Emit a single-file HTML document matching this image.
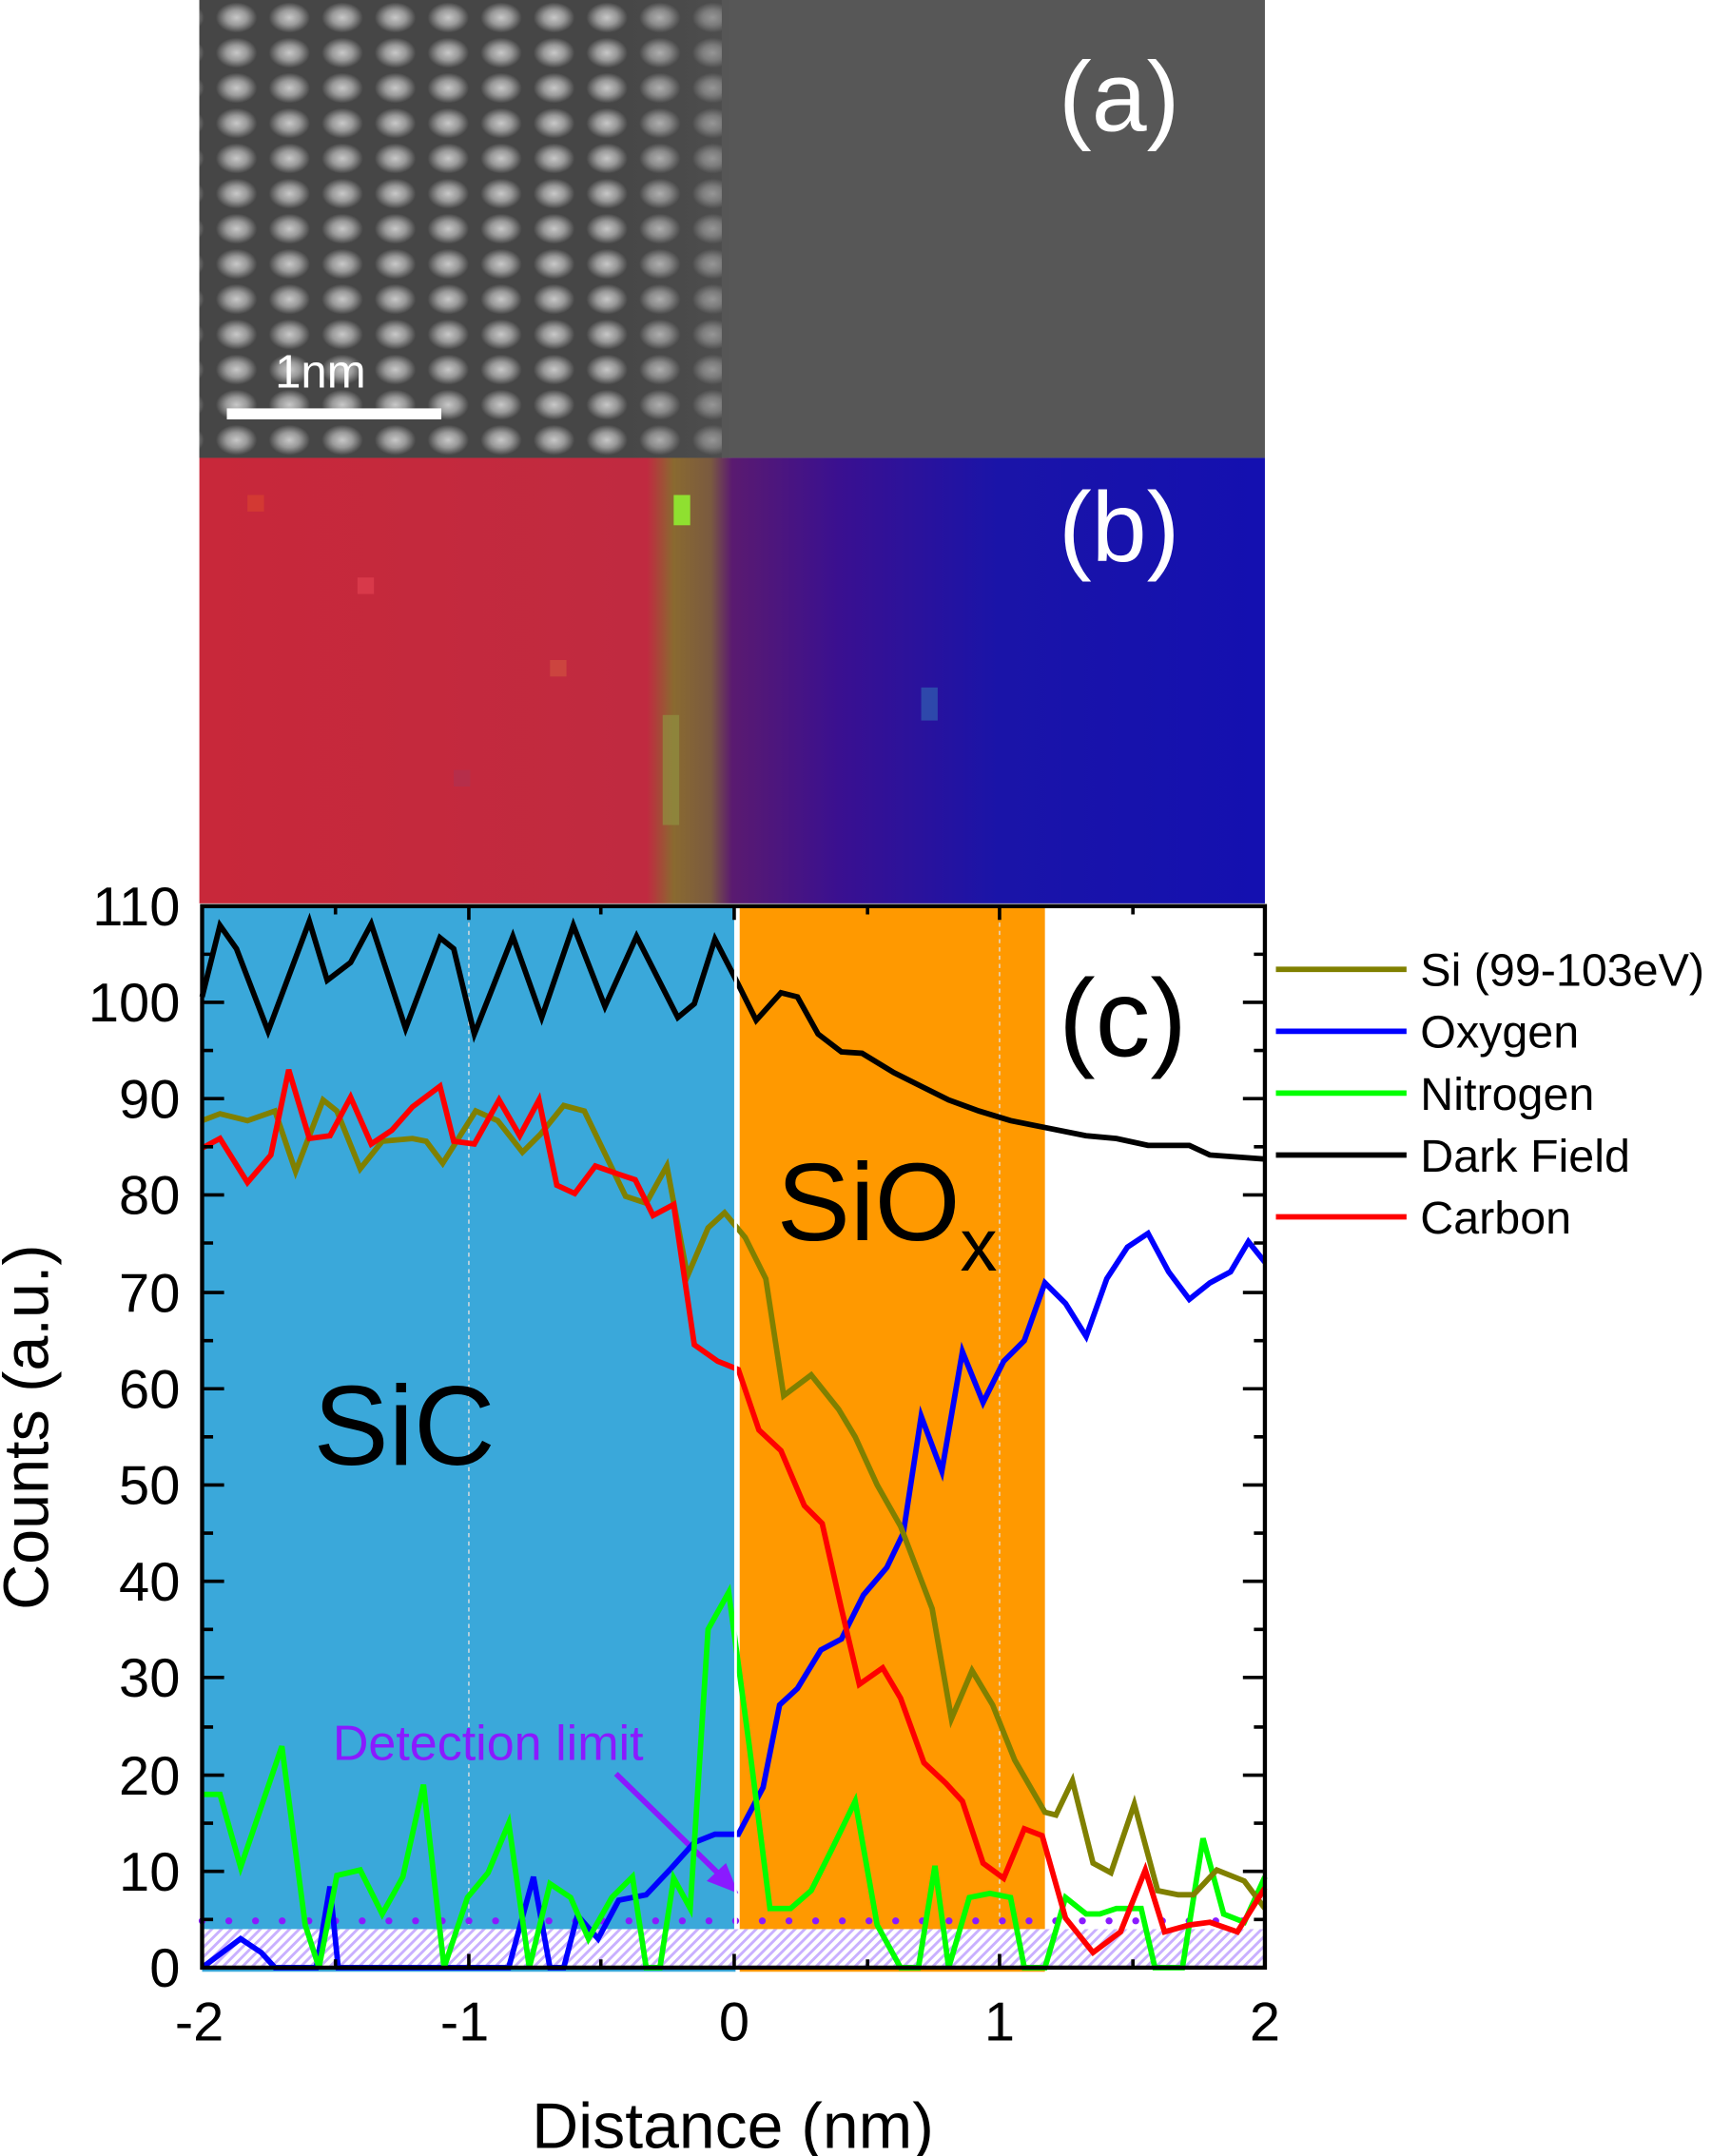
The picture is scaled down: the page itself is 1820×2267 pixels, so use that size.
<!DOCTYPE html>
<html><head><meta charset="utf-8"><style>
html,body{margin:0;padding:0;background:#fff;}
svg{display:block;}
text{font-family:"Liberation Sans",Arial,sans-serif;}
</style></head><body>
<svg width="1820" height="2267" viewBox="0 0 1259 1568" preserveAspectRatio="none" xmlns="http://www.w3.org/2000/svg">
<defs>
<radialGradient id="blob"><stop offset="0" stop-color="#c8c8c8"/><stop offset="0.5" stop-color="#9a9a9a"/><stop offset="1" stop-color="#9a9a9a" stop-opacity="0"/></radialGradient>
<pattern id="lat" x="153" y="0" width="38.5" height="25.6" patternUnits="userSpaceOnUse">
<ellipse cx="19" cy="12.8" rx="15" ry="11" fill="url(#blob)"/>
</pattern>
<linearGradient id="fadeL" x1="0" x2="1"><stop offset="0" stop-color="#505050" stop-opacity="0"/><stop offset="1" stop-color="#565656" stop-opacity="1"/></linearGradient>
<linearGradient id="bgrad" x1="0" x2="1">
<stop offset="0" stop-color="#c8283a"/><stop offset="0.42" stop-color="#c02a40"/>
<stop offset="0.445" stop-color="#8a6a30"/><stop offset="0.48" stop-color="#7a5a40"/>
<stop offset="0.5" stop-color="#5a1a70"/><stop offset="0.6" stop-color="#3a1090"/>
<stop offset="0.75" stop-color="#1a14a8"/><stop offset="1" stop-color="#1410b0"/></linearGradient>
<pattern id="hatch" width="5" height="5" patternUnits="userSpaceOnUse" patternTransform="rotate(45)">
<rect width="5" height="5" fill="#fff"/><rect width="2" height="5" fill="#c9b0ff"/></pattern>
</defs>
<!-- panel a -->
<rect x="145" y="0" width="775" height="333" fill="#575757"/>
<rect x="145" y="0" width="380" height="333" fill="#464646"/>
<rect x="145" y="0" width="380" height="333" fill="url(#lat)"/>
<rect x="440" y="0" width="90" height="333" fill="url(#fadeL)" opacity="0.5"/>
<rect x="165" y="297" width="156" height="8" fill="#fff"/>
<text x="200" y="282" font-size="34" fill="#fff">1nm</text>
<text x="770" y="95" font-size="72" fill="#fff">(a)</text>
<!-- panel b -->
<rect x="145" y="333" width="775" height="324" fill="url(#bgrad)"/>
<rect x="180" y="360" width="12" height="12" fill="#d84030" opacity=".7"/>
<rect x="260" y="420" width="12" height="12" fill="#e04050" opacity=".7"/>
<rect x="330" y="560" width="12" height="12" fill="#b03050" opacity=".7"/>
<rect x="400" y="480" width="12" height="12" fill="#d05040" opacity=".7"/>
<rect x="490" y="360" width="12" height="22" fill="#8fe030"/>
<rect x="482" y="520" width="12" height="80" fill="#909040" opacity=".7"/>
<rect x="670" y="500" width="12" height="24" fill="#3060b0" opacity=".7"/>
<text x="770" y="408" font-size="72" fill="#fff">(b)</text>
<!-- plot c -->
<rect x="147" y="659" width="773" height="772" fill="#fff"/>
<rect x="147" y="659" width="388" height="744" fill="#3aa8da"/>
<rect x="538" y="659" width="222" height="744" fill="#ff9900"/>
<rect x="147" y="1403" width="773" height="28" fill="url(#hatch)"/>
<rect x="147" y="1431" width="388" height="3" fill="#3aa8da"/>
<rect x="538" y="1431" width="222" height="3" fill="#ff9900"/>
<g stroke="#ddd" stroke-width="1" stroke-dasharray="3,3">
<line x1="341" y1="659" x2="341" y2="1403"/><line x1="727" y1="659" x2="727" y2="1403"/></g>
<line x1="147" y1="1397" x2="920" y2="1397" stroke="#8a1aff" stroke-width="5" stroke-dasharray="0.1,19.3" stroke-linecap="round"/>
<text x="242" y="1280" font-size="36" fill="#8a1aff">Detection limit</text>
<line x1="448" y1="1290" x2="525" y2="1365" stroke="#8a1aff" stroke-width="4"/>
<polygon points="537,1377 514,1368 528,1355" fill="#8a1aff"/>
<g fill="none" stroke-width="4" stroke-linejoin="miter">
<polyline stroke="#0000ff" points="147,1431 175,1410 190,1420 200,1431 230,1431 240,1372 246,1431 370,1431 388,1365 400,1431 410,1431 420,1393 435,1410 450,1382 470,1378 487,1360 505,1340 520,1334 537,1334 555,1300 567,1240 580,1228 597,1200 612,1192 628,1160 645,1140 657,1115 670,1030 685,1070 700,983 715,1020 730,990 745,975 760,933 775,948 790,972 805,930 820,907 835,897 850,925 865,945 880,933 895,925 908,903 920,918"/>
<polyline stroke="#00ff00" points="147,1305 160,1305 175,1358 188,1320 205,1270 222,1400 232,1431 245,1364 262,1360 278,1392 293,1365 308,1298 323,1431 340,1380 355,1362 370,1326 385,1431 400,1370 415,1380 428,1410 445,1380 460,1365 470,1431 480,1431 490,1366 502,1388 515,1185 530,1158 545,1270 560,1388 575,1388 590,1375 605,1345 622,1310 638,1400 655,1431 668,1431 680,1357 690,1431 705,1380 720,1377 735,1380 745,1431 760,1431 775,1380 790,1392 800,1392 812,1388 830,1388 840,1431 860,1431 875,1337 890,1392 905,1398 920,1365"/>
<polyline stroke="#808000" points="147,815 160,810 180,815 200,808 215,852 235,800 245,808 262,850 278,830 300,828 310,830 322,846 346,808 362,815 380,838 393,825 410,804 425,808 455,870 470,875 485,848 500,928 515,893 527,882 542,900 557,930 570,1015 590,1000 610,1025 622,1045 638,1080 655,1110 678,1170 692,1250 707,1215 722,1240 738,1280 760,1318 768,1320 780,1295 795,1355 808,1362 825,1312 842,1375 857,1378 868,1378 885,1360 905,1368 920,1388"/>
<polyline stroke="#ff0000" points="147,835 160,828 180,860 197,840 210,778 225,828 240,826 255,798 270,832 285,822 300,805 320,790 330,830 345,832 363,800 378,826 392,800 405,862 418,868 433,848 450,854 462,858 475,884 490,876 505,978 522,990 537,996 552,1040 568,1055 585,1095 598,1108 612,1170 625,1225 642,1213 655,1235 672,1282 688,1297 700,1310 715,1355 730,1366 745,1330 758,1335 775,1395 795,1420 815,1405 833,1360 847,1405 865,1400 880,1398 900,1405 920,1373"/>
<polyline stroke="#000" points="147,725 160,673 172,690 195,750 225,670 238,713 255,700 270,672 295,748 320,682 330,690 345,752 373,681 394,740 417,673 440,732 463,681 493,740 505,730 520,683 535,712 550,742 568,722 580,725 595,752 612,765 627,766 650,780 670,790 690,800 712,808 735,815 760,820 790,826 812,828 835,833 865,833 880,840 920,843"/>
</g>
<line x1="535" y1="659" x2="535" y2="1403" stroke="#fff" stroke-width="2"/>
<text x="228" y="1065" font-size="82" fill="#000">SiC</text>
<text x="565" y="902" font-size="80" fill="#000">SiO<tspan font-size="54" dy="22">x</tspan></text>
<text x="770" y="768" font-size="80" fill="#000">(c)</text>
<!-- frame & ticks -->
<rect x="147" y="659" width="773" height="772" fill="none" stroke="#000" stroke-width="3"/>
<g stroke="#000" stroke-width="2.5">
<path d="M147,1431h16M147,1361h16M147,1291h16M147,1220h16M147,1150h16M147,1080h16M147,1010h16M147,940h16M147,869h16M147,799h16M147,729h16
M920,1431h-16M920,1361h-16M920,1291h-16M920,1220h-16M920,1150h-16M920,1080h-16M920,1010h-16M920,940h-16M920,869h-16M920,799h-16M920,729h-16
M147,1396h8M147,1326h8M147,1256h8M147,1185h8M147,1115h8M147,1045h8M147,975h8M147,904h8M147,834h8M147,764h8M147,694h8
M920,1396h-8M920,1326h-8M920,1256h-8M920,1185h-8M920,1115h-8M920,1045h-8M920,975h-8M920,904h-8M920,834h-8M920,764h-8M920,694h-8
M341,1431v-10M534,1431v-10M727,1431v-10M244,1431v-6M437,1431v-6M631,1431v-6M824,1431v-6
M341,659v10M534,659v10M727,659v10M244,659v6M437,659v6M631,659v6M824,659v6"/>
</g>
<g font-size="40" text-anchor="end" fill="#000">
<text x="131" y="1445">0</text><text x="131" y="1375">10</text><text x="131" y="1305">20</text><text x="131" y="1234">30</text>
<text x="131" y="1164">40</text><text x="131" y="1094">50</text><text x="131" y="1024">60</text><text x="131" y="954">70</text>
<text x="131" y="883">80</text><text x="131" y="813">90</text><text x="131" y="743">100</text><text x="131" y="673">110</text>
</g>
<g font-size="40" text-anchor="middle" fill="#000">
<text x="145" y="1484">-2</text><text x="338" y="1484">-1</text><text x="534" y="1484">0</text><text x="727" y="1484">1</text><text x="920" y="1484">2</text>
</g>
<text x="533" y="1562" font-size="47" text-anchor="middle">Distance (nm)</text>
<text transform="translate(35,1038) rotate(-90)" font-size="46" text-anchor="middle">Counts (a.u.)</text>
<!-- legend -->
<g stroke-width="4">
<line x1="928" y1="705" x2="1023" y2="705" stroke="#808000"/>
<line x1="928" y1="750" x2="1023" y2="750" stroke="#0000ff"/>
<line x1="928" y1="795" x2="1023" y2="795" stroke="#00ff00"/>
<line x1="928" y1="840" x2="1023" y2="840" stroke="#000"/>
<line x1="928" y1="885" x2="1023" y2="885" stroke="#ff0000"/>
</g>
<g font-size="33.5" fill="#000">
<text x="1033" y="717">Si (99-103eV)</text><text x="1033" y="762">Oxygen</text><text x="1033" y="807">Nitrogen</text>
<text x="1033" y="852">Dark Field</text><text x="1033" y="897">Carbon</text>
</g>
</svg>
</body></html>
